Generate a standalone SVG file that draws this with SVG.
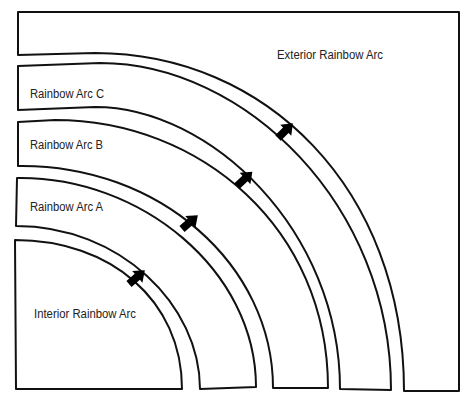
<svg xmlns="http://www.w3.org/2000/svg" xmlns:xlink="http://www.w3.org/1999/xlink" width="474" height="406" viewBox="0 0 474 406">
<style>
.band{fill:#fff;stroke:#111;stroke-width:2;stroke-linejoin:round}
.lbl{font-family:"Liberation Sans",Arial,sans-serif;font-size:12px;fill:#222}
.arw{fill:#000}
</style>
<defs>
<path id="arr" d="M0,-3.9 L11,-3.9 L11,-7.8 L21,0 L11,7.8 L11,3.9 L0,3.9 Z"/>
</defs>
<rect width="474" height="406" fill="#fff"/>
<g id="exterior">
<path class="band" d="M18,12 L459,12 L459,391 L404,391 C404,188 265,53 95,53 L18,55 Z"/>
<text class="lbl" x="277" y="59" textLength="106" lengthAdjust="spacingAndGlyphs">Exterior Rainbow Arc</text>
</g>
<g id="arcC">
<path class="band" d="M18,66 L100,63 C245,63 391,205 391,390 L340,389 C340,230 210,107 95,107 L18,110 Z"/>
<text class="lbl" x="30" y="98" textLength="74" lengthAdjust="spacingAndGlyphs">Rainbow Arc C</text>
</g>
<g id="arcB">
<path class="band" d="M18,122 L55,120 C200,120 328,228 328,388 L273,388 C273,265 159,164 18,166 Z"/>
<text class="lbl" x="30" y="149" textLength="73" lengthAdjust="spacingAndGlyphs">Rainbow Arc B</text>
</g>
<g id="arcA">
<path class="band" d="M17,178 C140,176 256,270 256,387 L200,389 C200,305 120,226 16,226 Z"/>
<text class="lbl" x="30" y="211" textLength="73" lengthAdjust="spacingAndGlyphs">Rainbow Arc A</text>
</g>
<g id="interior">
<path class="band" d="M15,240 C110,240 182,300 182,389 L16,389 Z"/>
<text class="lbl" x="34" y="318" textLength="102" lengthAdjust="spacingAndGlyphs">Interior Rainbow Arc</text>
</g>
<g id="connectors">
<use class="arw" xlink:href="#arr" transform="translate(129,284) rotate(-41)"/>
<use class="arw" xlink:href="#arr" transform="translate(182,229) rotate(-41)"/>
<use class="arw" xlink:href="#arr" transform="translate(237,186) rotate(-43)"/>
<use class="arw" xlink:href="#arr" transform="translate(278,138) rotate(-45)"/>
</g>
</svg>
